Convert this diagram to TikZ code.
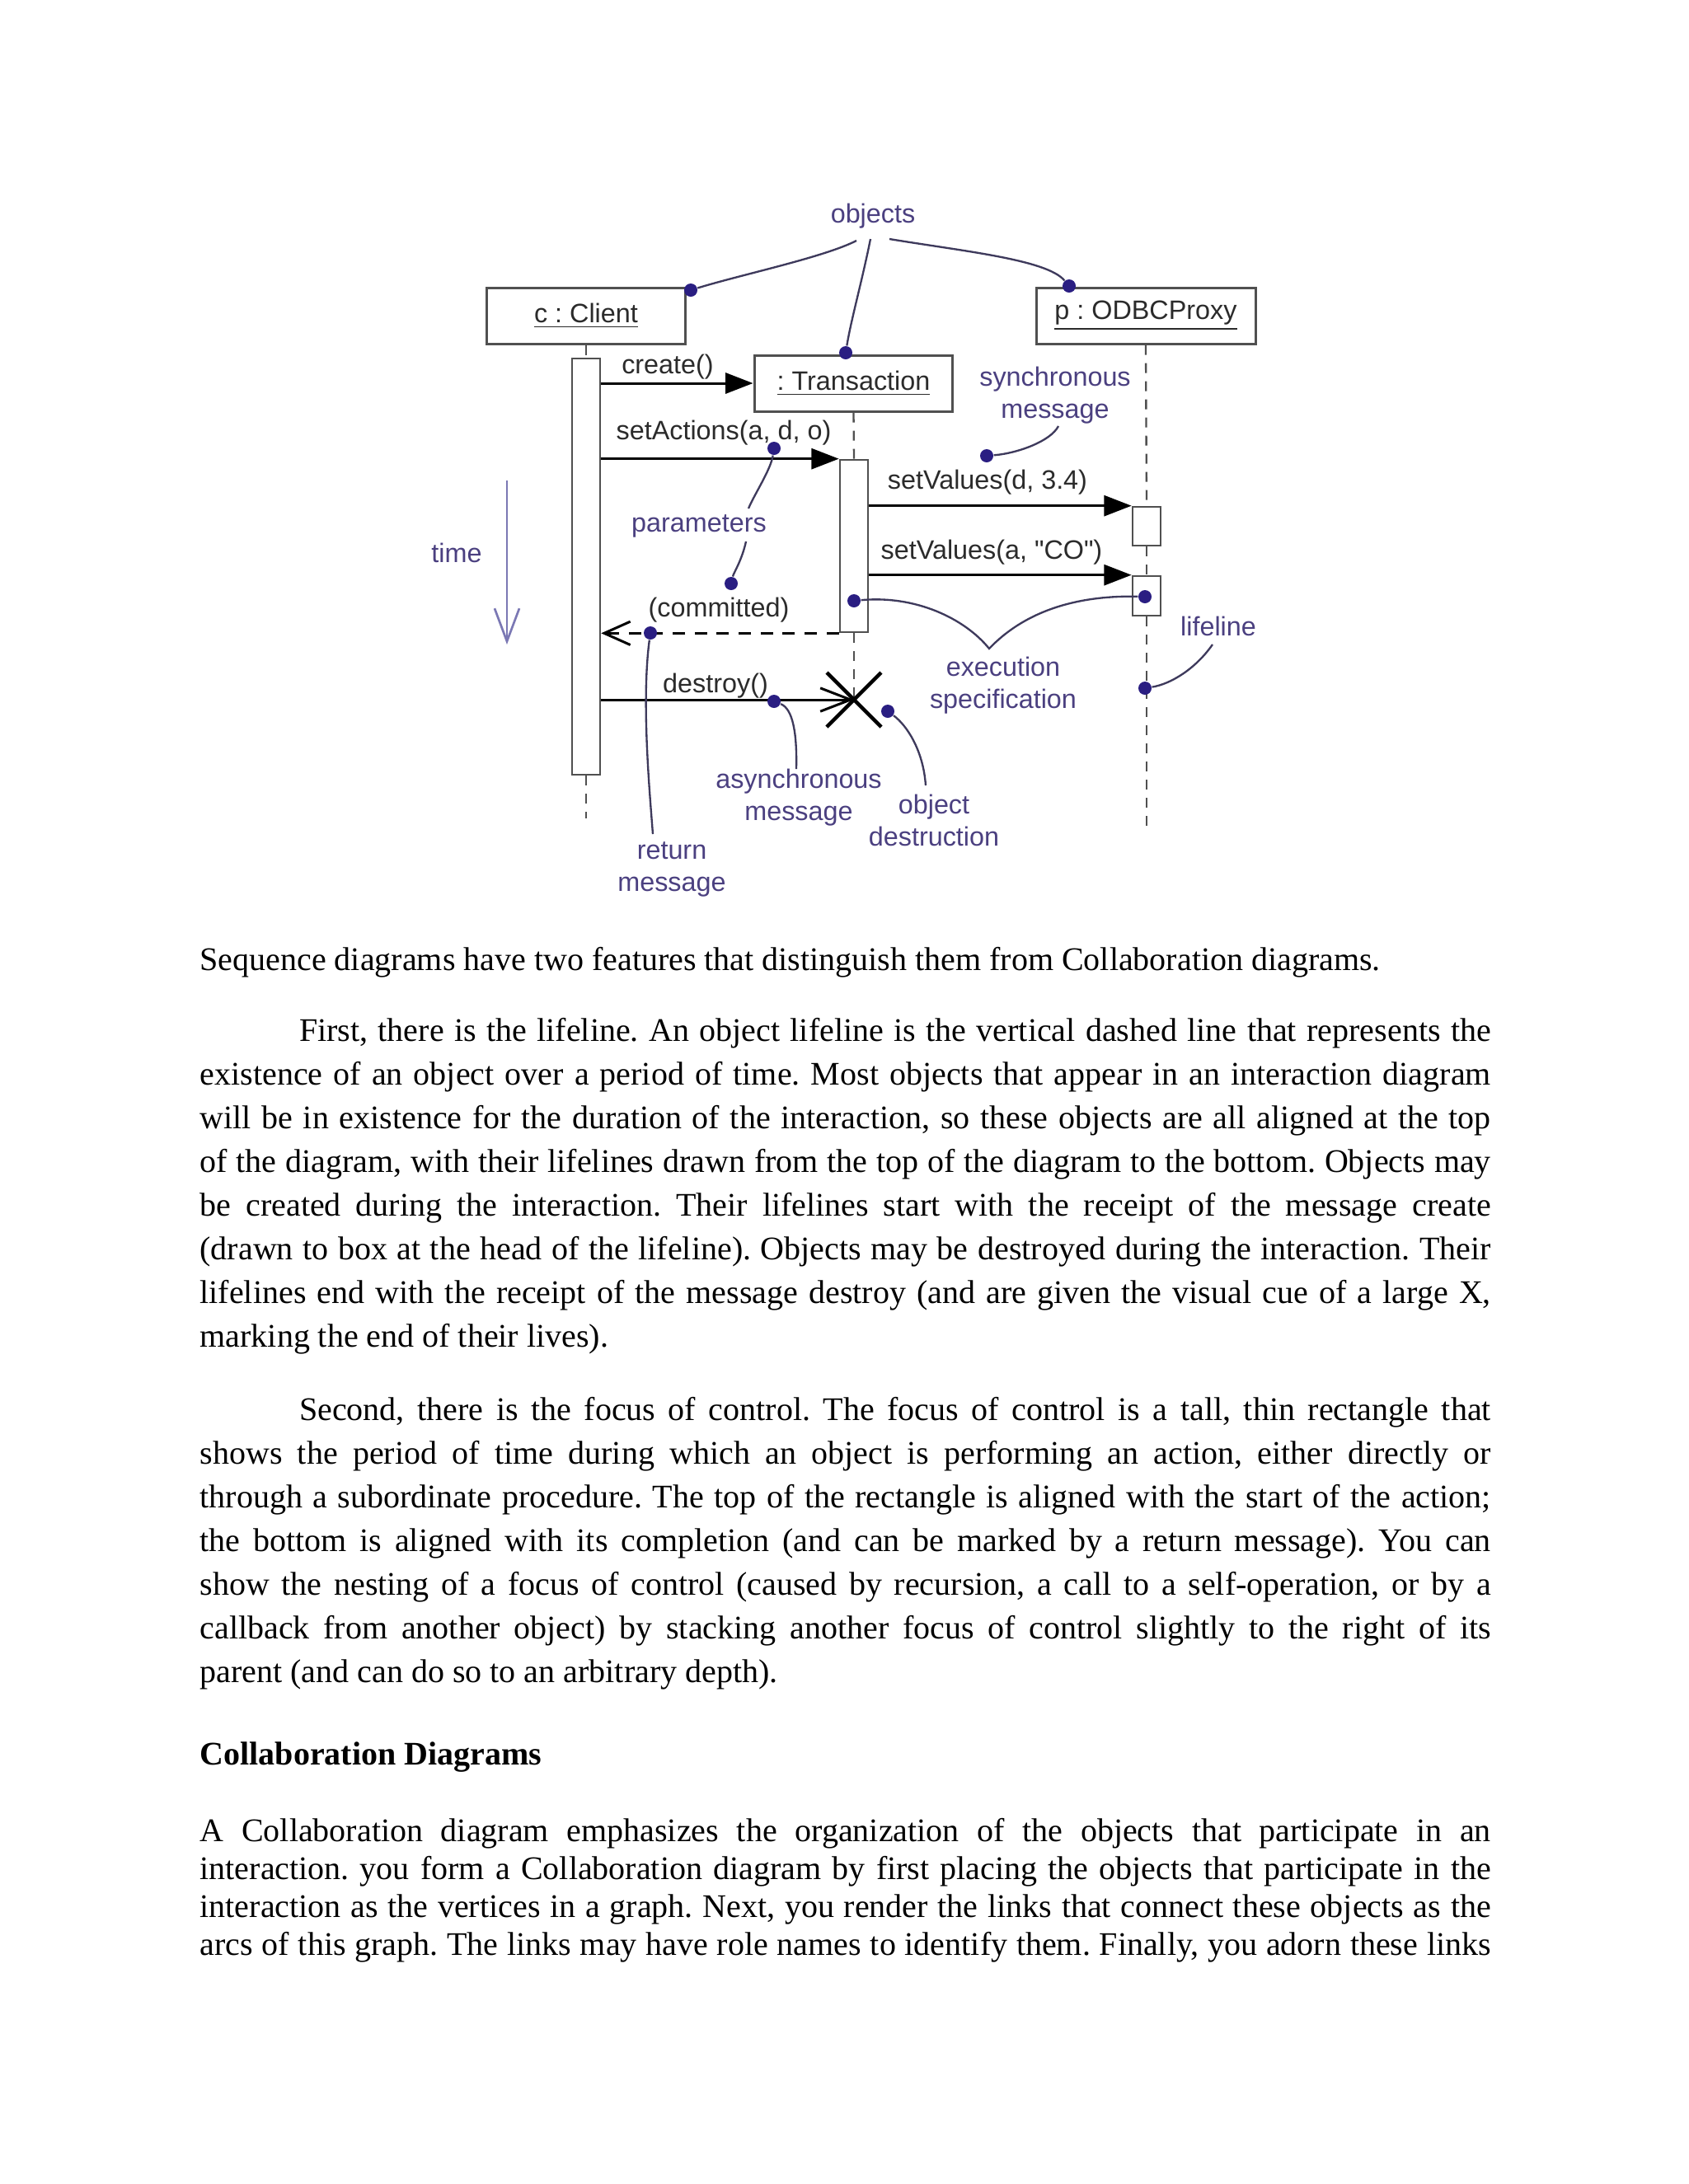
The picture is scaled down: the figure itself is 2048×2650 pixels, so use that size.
\documentclass[tikz,border=0pt]{standalone}
\usepackage{fontspec}
\setmainfont{Liberation Serif}
\newfontfamily\diagfont{Liberation Sans}
\usetikzlibrary{arrows.meta}
\definecolor{boxc}{HTML}{505050}
\definecolor{msgc}{HTML}{2B2B2B}
\definecolor{notec}{HTML}{4B4080}
\definecolor{dotc}{HTML}{2A1E82}
\definecolor{leadc}{HTML}{3E3A5C}
\definecolor{timec}{HTML}{7B78B4}
\hyphenpenalty=10000
\exhyphenpenalty=10000
\tolerance=10000
\frenchspacing
\tikzset{
  obj/.style={draw=boxc, line width=0.9pt, fill=white, minimum height=7.17mm, inner sep=0pt,
    font=\diagfont\fontsize{9.7}{11}\selectfont, text=msgc},
  bar/.style={draw=boxc, line width=0.8pt, fill=white, minimum width=3.58mm, inner sep=0pt},
  lbl/.style={font=\diagfont\fontsize{9.7}{11}\selectfont, text=msgc, inner sep=0pt},
  note/.style={font=\diagfont\fontsize{9.7}{11.7}\selectfont, text=notec, align=center, inner sep=0pt},
  dot/.style={circle, fill=dotc, inner sep=0pt, minimum size=4.8pt},
  lead/.style={draw=leadc, line width=0.7pt},
  msg/.style={draw=black, line width=0.9pt, -{Triangle[length=10pt,width=7.5pt]}},
  life/.style={draw=boxc, line width=0.7pt, dash pattern=on 3.6pt off 3pt},
  para/.style={anchor=base west, inner sep=0pt, text width=6.5in, align=justify,
    font=\fontsize{12}{15.93}\selectfont}
}
\begin{document}
\begin{tikzpicture}[x=0.10542mm, y=-0.10542mm]
\fill[white] (0,0) rectangle (2048,2650);
\useasboundingbox (0,0) rectangle (2048,2650);

% objects and their activation bars
\node[obj, minimum width=25.51mm] (client) at (711,383) {\underline{c : Client}};
\node[obj, minimum width=25.4mm] (trans) at (1035.5,465) {\underline{: Transaction}};
\node[obj, minimum width=28.04mm] (proxy) at (1390,383) {\underline{p : ODBCProxy}};

\node[bar, minimum height=53.24mm] (cbar) at (711,687.5) {};
\node[bar, minimum height=22.03mm] (tbar) at (1036,662.5) {};
\node[bar, minimum height=4.95mm] (pbarA) at (1391,638.5) {};
\node[bar, minimum height=5.06mm] (pbarB) at (1391,723) {};
\coordinate (xend) at (1036,849);

% lifelines
\draw[life] (client.south) -- (cbar.north);
\draw[life] (cbar.south) -- (711,993);
\draw[life] (trans.south) -- (tbar.north);
\draw[life] (tbar.south) -- (xend);
\draw[life] (proxy.south) -- (pbarA.north);
\draw[life] (pbarA.south) -- (pbarB.north);
\draw[life] (pbarB.south) -- (1391,1003);

% messages
\draw[msg] (cbar.east |- trans.west) -- (trans.west);
\draw[msg] (cbar.east |- tbar.north west) -- (tbar.north west);
\draw[msg] (tbar.east |- pbarA.north west) -- (pbarA.north west);
\draw[msg] (tbar.east |- pbarB.north west) -- (pbarB.north west);
\draw[black, line width=0.9pt, dash pattern=on 4.5pt off 3.5pt, -{Straight Barb[length=9.5pt,width=8.5pt]}]
  (tbar.south west) -- (cbar.east |- tbar.south west);
\draw[black, line width=0.9pt, -{Straight Barb[length=11pt,width=8.5pt]}] (cbar.east |- xend) -- (xend);
\draw[black, line width=1.3pt] (xend) ++(-33,-33) -- ++(66,66);
\draw[black, line width=1.3pt] (xend) ++(-33,33) -- ++(66,-66);

\node[lbl] (lcreate) at (810,445) {create()};
\node[lbl] (lsetact) at (878,525) {setActions(a, d, o)};
\node[lbl] (lsetd) at (1198,585) {setValues(d, 3.4)};
\node[lbl] (lseta) at (1203,670) {setValues(a, "CO")};
\node[lbl] (lcommit) at (872,740) {(committed)};
\node[lbl] (ldestroy) at (868,832) {destroy()};

% time
\node[note] (time) at (554,671) {time};
\coordinate (t0) at (615,583);
\coordinate (t1) at (615,782);
\draw[timec, line width=0.8pt, -{Straight Barb[length=12pt,width=9pt]}] (t0) -- (t1);

% notes
\node[note] (objects) at (1059,262) {objects};
\node[note] (sync) at (1280,480) {synchronous\\message};
\node[note] (params) at (848,638) {parameters};
\node[note] (retmsg) at (815,1055) {return\\message};
\node[note] (async) at (969,968) {asynchronous\\message};
\node[note] (destr) at (1133,995) {object\\destruction};
\node[note] (exec) at (1217,832) {execution\\specification};
\node[note] (life) at (1478,760) {lifeline};

\node[dot] (dClient) at (838,352) {};
\node[dot] (dTrans) at (1026,428) {};
\node[dot] (dProxy) at (1297,347) {};
\node[dot] (dSync) at (1197,553) {};
\node[dot] (dParA) at (939,544) {};
\node[dot] (dParB) at (887,708) {};
\node[dot] (dRet) at (789,768) {};
\node[dot] (dAsync) at (939,851) {};
\node[dot] (dDestr) at (1077,863) {};
\node[dot] (dExecA) at (1036,729) {};
\node[dot] (dExecB) at (1389,724) {};
\node[dot] (dLife) at (1389,835) {};

\coordinate (o1) at (1039,292);
\coordinate (o2) at (1056,290);
\coordinate (o3) at (1079,290);
\coordinate (s1) at (1284,517);
\coordinate (pa) at (908,617);
\coordinate (pb) at (905,657);
\coordinate (r1) at (792,1012);
\coordinate (a1) at (966,933);
\coordinate (x1) at (1123,953);
\coordinate (ev) at (1200,787);
\coordinate (l1) at (1471,782);

\draw[lead] (o1) .. controls (1000,312) and (900,333) .. (dClient);
\draw[lead] (o2) .. controls (1046,340) and (1032,390) .. (dTrans);
\draw[lead] (o3) .. controls (1170,305) and (1270,315) .. (dProxy);
\draw[lead] (s1) .. controls (1275,535) and (1235,550) .. (dSync);
\draw[lead] (dParA) .. controls (935,570) and (915,600) .. (pa);
\draw[lead] (pb) .. controls (900,680) and (890,695) .. (dParB);
\draw[lead] (dRet) .. controls (778,850) and (788,960) .. (r1);
\draw[lead] (dAsync) .. controls (962,860) and (967,890) .. (a1);
\draw[lead] (dDestr) .. controls (1100,880) and (1120,910) .. (x1);
\draw[lead] (dExecA) .. controls (1110,722) and (1170,750) .. (ev) .. controls (1240,745) and (1300,722) .. (dExecB);
\draw[lead] (l1) .. controls (1450,812) and (1420,830) .. (dLife);

% page text
\node[para] (intro) at (242,1177) {Sequence diagrams have two features that distinguish them from Collaboration diagrams.};

\node[para] (first) at (242,1263) {\hspace*{0.5in}First, there is the lifeline. An object lifeline is the vertical dashed line that represents the\linebreak
existence of an object over a period of time. Most objects that appear in an interaction diagram\linebreak
will be in existence for the duration of the interaction, so these objects are all aligned at the top\linebreak
of the diagram, with their lifelines drawn from the top of the diagram to the bottom. Objects may\linebreak
be created during the interaction. Their lifelines start with the receipt of the message create\linebreak
(drawn to box at the head of the lifeline). Objects may be destroyed during the interaction. Their\linebreak
lifelines end with the receipt of the message destroy (and are given the visual cue of a large X,\linebreak
marking the end of their lives).};

\node[para] (second) at (242,1723) {\hspace*{0.5in}Second, there is the focus of control. The focus of control is a tall, thin rectangle that\linebreak
shows the period of time during which an object is performing an action, either directly or\linebreak
through a subordinate procedure. The top of the rectangle is aligned with the start of the action;\linebreak
the bottom is aligned with its completion (and can be marked by a return message). You can\linebreak
show the nesting of a focus of control (caused by recursion, a call to a self-operation, or by a\linebreak
callback from another object) by stacking another focus of control slightly to the right of its\linebreak
parent (and can do so to an arbitrary depth).};

\node[para] (heading) at (242,2141) {\textbf{Collaboration Diagrams}};

\node[para, font=\fontsize{12}{13.89}\selectfont] (collab) at (242,2234) {A Collaboration diagram emphasizes the organization of the objects that participate in an\linebreak
interaction. you form a Collaboration diagram by first placing the objects that participate in the\linebreak
interaction as the vertices in a graph. Next, you render the links that connect these objects as the\linebreak
arcs of this graph. The links may have role names to identify them. Finally, you adorn these links\parfillskip=0pt\par};
\end{tikzpicture}
\end{document}
